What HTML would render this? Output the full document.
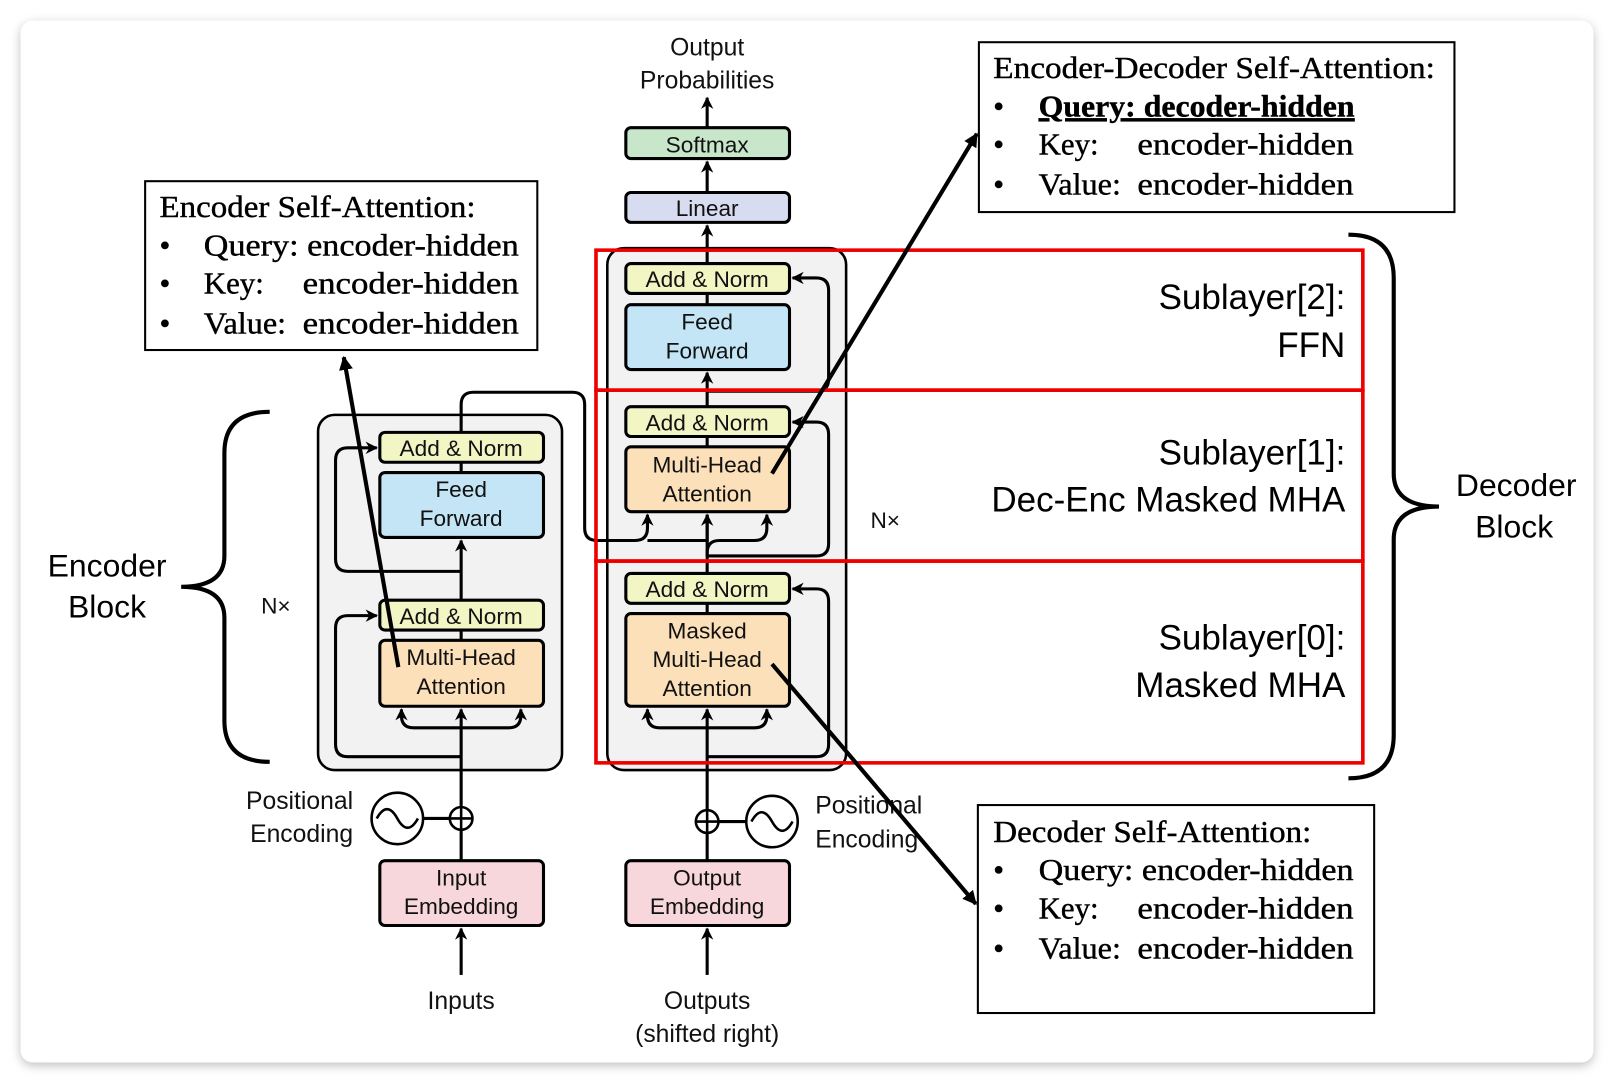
<!DOCTYPE html>
<html><head><style>
html,body{margin:0;padding:0;background:#fff;}
svg{display:block;}
.sans{font-family:"Liberation Sans",sans-serif;}
.serif{font-family:"Liberation Serif",serif;}
</style></head><body>
<svg width="1614" height="1082" viewBox="0 0 1568 1051" preserveAspectRatio="none" xmlns="http://www.w3.org/2000/svg">
<defs>
<marker id="a" viewBox="0 0 10 10" refX="9" refY="5" markerWidth="4" markerHeight="4" orient="auto"><path d="M0,0 L10,5 L0,10 L3,5z" fill="#000"/></marker>
<marker id="b" viewBox="0 0 10 10" refX="9" refY="5" markerWidth="3.4" markerHeight="3.4" orient="auto"><path d="M0,0 L10,5 L0,10 z" fill="#000"/></marker>
<filter id="sh" x="-5%" y="-5%" width="110%" height="110%"><feDropShadow dx="0" dy="3" stdDeviation="5" flood-opacity="0.25"/></filter>
</defs>
<rect x="0" y="0" width="1568" height="1051" fill="#fff"/>
<rect x="20" y="20" width="1528" height="1012" rx="12" fill="#fff" filter="url(#sh)"/>

<rect x="309" y="403" width="237" height="345" rx="16" fill="#f2f2f2" stroke="#000" stroke-width="2.5"/>
<rect x="590" y="241" width="232" height="507" rx="16" fill="#f2f2f2" stroke="#000" stroke-width="2.5"/>

<g fill="none" stroke="#000" stroke-width="3">
<path d="M448 947 L448 902" marker-end="url(#a)"/>
<path d="M448 836 L448 689" marker-end="url(#a)"/>
<path d="M448 735 L338 735 Q326 735 326 723 L326 610 Q326 598 338 598 L366 598" marker-end="url(#a)"/>
<path d="M448 707 L402 707 Q390 707 390 695 L390 689" marker-end="url(#a)"/>
<path d="M448 707 L494 707 Q506 707 506 695 L506 689" marker-end="url(#a)"/>
<path d="M448 583 L448 525" marker-end="url(#a)"/>
<path d="M448 555 L338 555 Q326 555 326 543 L326 447 Q326 435 338 435 L366 435" marker-end="url(#a)"/>
<path d="M448 612 L448 622"/><path d="M448 449 L448 459"/>
<path d="M448 420 L448 393 Q448 381 460 381 L556 381 Q568 381 568 393 L568 513 Q568 525 580 525 L617 525 Q629 525 629 513 L629 500" marker-end="url(#a)"/>
<path d="M410 795 L437 795"/>
<path d="M687 947 L687 902" marker-end="url(#a)"/>
<path d="M687 836 L687 689" marker-end="url(#a)"/>
<path d="M698 798 L725 798"/>
<path d="M687 735 L793 735 Q805 735 805 723 L805 584 Q805 572 793 572 L770 572" marker-end="url(#a)"/>
<path d="M687 707 L641 707 Q629 707 629 695 L629 689" marker-end="url(#a)"/>
<path d="M687 707 L733 707 Q745 707 745 695 L745 689" marker-end="url(#a)"/>
<path d="M687 586 L687 596"/>
<path d="M687 557 L687 500" marker-end="url(#a)"/>
<path d="M687 540 L793 540 Q805 540 805 528 L805 422 Q805 410 793 410 L770 410" marker-end="url(#a)"/>
<path d="M687 540 L687 537 Q687 525 699 525 L733 525 Q745 525 745 513 L745 500" marker-end="url(#a)"/>
<path d="M629 525 L687 525 L687 500" />
<path d="M687 424 L687 434"/>
<path d="M687 395 L687 362" marker-end="url(#a)"/>
<path d="M687 380 L793 380 Q805 380 805 368 L805 282 Q805 270 793 270 L770 270" marker-end="url(#a)"/>
<path d="M687 285 L687 296"/>
<path d="M687 256 L687 219" marker-end="url(#a)"/>
<path d="M687 187 L687 157" marker-end="url(#a)"/>
<path d="M687 124 L687 95" marker-end="url(#a)"/>
</g>

<g fill="#fff" stroke="#000" stroke-width="2.5">
<circle cx="448" cy="795" r="11"/><circle cx="386" cy="795" r="25"/>
<circle cx="687" cy="798" r="11"/><circle cx="750" cy="798" r="25"/>
</g>
<g fill="none" stroke="#000" stroke-width="2.5">
<path d="M437 795 H459 M448 784 V806"/><path d="M676 798 H698 M687 787 V809"/>
<path d="M366 795 Q376 777 386 795 T406 795"/><path d="M730 798 Q740 780 750 798 T770 798"/>
</g>

<g stroke="#000" stroke-width="3">
<rect x="369" y="420" width="159" height="29" rx="5" fill="#f2f6c4"/>
<rect x="369" y="459" width="159" height="63" rx="5" fill="#c3e5f5"/>
<rect x="369" y="583" width="159" height="29" rx="5" fill="#f2f6c4"/>
<rect x="369" y="622" width="159" height="64" rx="5" fill="#fce0b9"/>
<rect x="369" y="836" width="159" height="63" rx="5" fill="#f7d7db"/>
<rect x="608" y="124" width="159" height="30" rx="5" fill="#c8e6c9"/>
<rect x="608" y="187" width="159" height="29" rx="5" fill="#d8dcf1"/>
<rect x="608" y="256" width="159" height="29" rx="5" fill="#f2f6c4"/>
<rect x="608" y="296" width="159" height="63" rx="5" fill="#c3e5f5"/>
<rect x="608" y="395" width="159" height="29" rx="5" fill="#f2f6c4"/>
<rect x="608" y="434" width="159" height="63" rx="5" fill="#fce0b9"/>
<rect x="608" y="557" width="159" height="29" rx="5" fill="#f2f6c4"/>
<rect x="608" y="596" width="159" height="90" rx="5" fill="#fce0b9"/>
<rect x="608" y="836" width="159" height="63" rx="5" fill="#f7d7db"/>
</g>

<g class="sans" font-size="22" fill="#111" text-anchor="middle">
<text x="448" y="443">Add &amp; Norm</text>
<text x="448" y="483">Feed</text><text x="448" y="511">Forward</text>
<text x="448" y="606">Add &amp; Norm</text>
<text x="448" y="646">Multi-Head</text><text x="448" y="674">Attention</text>
<text x="448" y="860">Input</text><text x="448" y="888">Embedding</text>
<text x="687" y="148">Softmax</text>
<text x="687" y="210">Linear</text>
<text x="687" y="279">Add &amp; Norm</text>
<text x="687" y="320">Feed</text><text x="687" y="348">Forward</text>
<text x="687" y="418">Add &amp; Norm</text>
<text x="687" y="459">Multi-Head</text><text x="687" y="487">Attention</text>
<text x="687" y="580">Add &amp; Norm</text>
<text x="687" y="620">Masked</text><text x="687" y="648">Multi-Head</text><text x="687" y="676">Attention</text>
<text x="687" y="860">Output</text><text x="687" y="888">Embedding</text>
<text x="687" y="54" font-size="24">Output</text><text x="687" y="86" font-size="24">Probabilities</text>
<text x="448" y="980" font-size="24">Inputs</text>
<text x="687" y="980" font-size="24">Outputs</text><text x="687" y="1012" font-size="24">(shifted right)</text>
<text x="268" y="596" font-size="22">N×</text>
<text x="860" y="513" font-size="22">N×</text>
</g>
<g class="sans" font-size="24" fill="#111">
<text x="343" y="786" text-anchor="end">Positional</text><text x="343" y="818" text-anchor="end">Encoding</text>
<text x="792" y="790">Positional</text><text x="792" y="823">Encoding</text>
</g>

<g fill="none" stroke="#e00" stroke-width="3.5">
<rect x="579" y="243" width="745" height="136"/>
<rect x="579" y="379" width="745" height="166"/>
<rect x="579" y="545" width="745" height="196"/>
</g>

<g fill="none" stroke="#000" stroke-width="4">
<path d="M262 400 Q218 400 218 440 L218 540 Q218 570 176 570 Q218 570 218 600 L218 700 Q218 740 262 740"/>
<path d="M1310 228 Q1354 228 1354 270 L1354 460 Q1354 492 1398 492 Q1354 492 1354 524 L1354 714 Q1354 756 1310 756"/>
</g>

<g class="sans" font-size="31" fill="#000">
<text x="104" y="560" text-anchor="middle">Encoder</text><text x="104" y="600" text-anchor="middle">Block</text>
<text x="1473" y="482" text-anchor="middle">Decoder</text><text x="1471" y="522" text-anchor="middle">Block</text>
<g font-size="34" text-anchor="end">
<text x="1307" y="300">Sublayer[2]:</text><text x="1307" y="347">FFN</text>
<text x="1307" y="451">Sublayer[1]:</text><text x="1307" y="497">Dec-Enc Masked MHA</text>
<text x="1307" y="631">Sublayer[0]:</text><text x="1307" y="677">Masked MHA</text>
</g>
</g>

<g fill="#fff" stroke="#000" stroke-width="2">
<rect x="951" y="41" width="462" height="165"/>
<rect x="141" y="176" width="381" height="164"/>
<rect x="950" y="782" width="385" height="202"/>
</g>
<g class="serif" font-size="30" fill="#000" stroke="#000" stroke-width="0.4">
<text x="965" y="76" textLength="429" lengthAdjust="spacingAndGlyphs">Encoder-Decoder Self-Attention:</text>
<text x="965" y="113">•</text><text x="1009" y="113" font-weight="bold" text-decoration="underline" textLength="307" lengthAdjust="spacingAndGlyphs">Query: decoder-hidden</text>
<text x="965" y="150">•</text><text x="1009" y="150">Key:</text><text x="1105" y="150" textLength="210" lengthAdjust="spacingAndGlyphs">encoder-hidden</text>
<text x="965" y="189">•</text><text x="1009" y="189" textLength="80" lengthAdjust="spacingAndGlyphs">Value:</text><text x="1105" y="189" textLength="210" lengthAdjust="spacingAndGlyphs">encoder-hidden</text>

<text x="155" y="211" textLength="307" lengthAdjust="spacingAndGlyphs">Encoder Self-Attention:</text>
<text x="155" y="248">•</text><text x="198" y="248" textLength="306" lengthAdjust="spacingAndGlyphs">Query: encoder-hidden</text>
<text x="155" y="285">•</text><text x="198" y="285">Key:</text><text x="294" y="285" textLength="210" lengthAdjust="spacingAndGlyphs">encoder-hidden</text>
<text x="155" y="324">•</text><text x="198" y="324" textLength="80" lengthAdjust="spacingAndGlyphs">Value:</text><text x="294" y="324" textLength="210" lengthAdjust="spacingAndGlyphs">encoder-hidden</text>

<text x="965" y="818" textLength="309" lengthAdjust="spacingAndGlyphs">Decoder Self-Attention:</text>
<text x="965" y="855">•</text><text x="1009" y="855" textLength="306" lengthAdjust="spacingAndGlyphs">Query: encoder-hidden</text>
<text x="965" y="892">•</text><text x="1009" y="892">Key:</text><text x="1105" y="892" textLength="210" lengthAdjust="spacingAndGlyphs">encoder-hidden</text>
<text x="965" y="931">•</text><text x="1009" y="931" textLength="80" lengthAdjust="spacingAndGlyphs">Value:</text><text x="1105" y="931" textLength="210" lengthAdjust="spacingAndGlyphs">encoder-hidden</text>
</g>

<g fill="none" stroke="#000" stroke-width="4">
<path d="M387 648 L334 347" marker-end="url(#b)"/>
<path d="M750 460 L949 130" marker-end="url(#b)"/>
<path d="M750 645 L948 878" marker-end="url(#b)"/>
</g>
</svg>
</body></html>
